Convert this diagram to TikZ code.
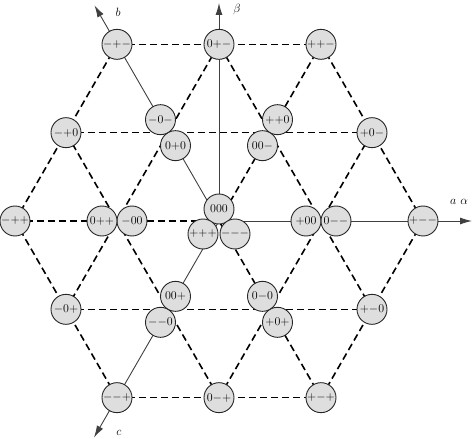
\documentclass[tikz,border=0pt]{standalone}
\usepackage{amsmath, amssymb}
\usetikzlibrary{arrows.meta}
\usetikzlibrary{calc}

\begin{document}
\begin{tikzpicture}[
	x=1pt, y=1pt,
  > = {Latex[length=12pt,width=7pt]},
  vec/.style = {draw=black!85,line width=0.9pt,fill=black!13,circle,minimum size=30pt,inner sep=0pt,font=\fontsize{12}{12}\selectfont},
  grid/.style = {line width=1.6pt,dash pattern=on 7pt off 4pt},
  axis/.style = {draw=black!75,line width=0.9pt},
  lbl/.style = {font=\fontsize{13}{13}\selectfont}
  ]
	\useasboundingbox (-219,-218) rectangle (255,221);

	\coordinate (o) at (0,0);

	% outer hexagon
	\coordinate (pmm) at (0:204);
	\coordinate (ppm) at (60:204);
	\coordinate (mpm) at (120:204);
	\coordinate (mpp) at (180:204);
	\coordinate (mmp) at (240:204);
	\coordinate (pmp) at (300:204);

	\coordinate (pzm) at (30:176.67);
	\coordinate (zpm) at (90:176.67);
	\coordinate (mpz) at (150:176.67);
	\coordinate (mzp) at (210:176.67);
	\coordinate (zmp) at (270:176.67);
	\coordinate (pmz) at (330:176.67);

	% axis ends
	\coordinate (atip) at (253,0);
	\coordinate (btip) at (120:249);
	\coordinate (ctip) at (240:250);
	\coordinate (betatip) at (0,218);

	% dashed lattice
	\draw[grid] (mpm) -- (ppm);
	\draw[grid] (mpz) -- (pzm);
	\draw[grid] (mpp) -- (o);
	\draw[grid] (mzp) -- (pmz);
	\draw[grid] (mmp) -- (pmp);

	\draw[grid] (mpp) -- (mpm);
	\draw[grid] (mzp) -- (zpm);
	\draw[grid] (o) -- (ppm);
	\draw[grid] (zmp) -- (pzm);
	\draw[grid] (pmp) -- (pmm);

	\draw[grid] (pmm) -- (ppm);
	\draw[grid] (pmz) -- (zpm);
	\draw[grid] (o) -- (pmp);
	\draw[grid] (zmp) -- (mpz);
	\draw[grid] (mmp) -- (mpp);

	% axes
	\draw[axis,->] (o) -- (atip);
	\draw[axis,->] (o) -- (betatip);
	\draw[axis,->] (o) -- (btip);
	\draw[axis,->] (o) -- (ctip);

	\node[lbl] (alabel) at (240,19) {$a\ \alpha$};
	\node[lbl] (betalabel) at (18,211) {$\beta$};
	\node[lbl] (blabel) at (-101,209) {$b$};
	\node[lbl] (clabel) at (-100,-212) {$c$};

	% large vectors
	\node[vec] (npmm) at (pmm) {${+}{-}{-}$};
	\node[vec] (nppm) at (ppm) {${+}{+}{-}$};
	\node[vec] (nmpm) at (mpm) {${-}{+}{-}$};
	\node[vec] (nmpp) at (mpp) {${-}{+}{+}$};
	\node[vec] (nmmp) at (mmp) {${-}{-}{+}$};
	\node[vec] (npmp) at (pmp) {${+}{-}{+}$};

	% medium vectors
	\node[vec] (npzm) at (pzm) {${+}0{-}$};
	\node[vec] (nzpm) at (zpm) {$0{+}{-}$};
	\node[vec] (nmpz) at (mpz) {${-}{+}0$};
	\node[vec] (nmzp) at (mzp) {${-}0{+}$};
	\node[vec] (nzmp) at (zmp) {$0{-}{+}$};
	\node[vec] (npmz) at (pmz) {${+}{-}0$};

	% small vectors
	\node[vec] (pzz) at (0:87) {${+}00$};
	\node[vec] (zmm) at (0:117) {$0{-}{-}$};
	\node[vec] (zzm) at (60:87) {$00{-}$};
	\node[vec] (ppz) at (60:117) {${+}{+}0$};
	\node[vec] (zpz) at (120:87) {$0{+}0$};
	\node[vec] (mzm) at (120:117) {${-}0{-}$};
	\node[vec] (mzz) at (180:87) {${-}00$};
	\node[vec] (zpp) at (180:117) {$0{+}{+}$};
	\node[vec] (zzp) at (240:87) {$00{+}$};
	\node[vec] (mmz) at (240:117) {${-}{-}0$};
	\node[vec] (zmz) at (300:87) {$0{-}0$};
	\node[vec] (pzp) at (300:117) {${+}0{+}$};

	% zero vectors
	\node[vec] (zzz) at (0,12) {$000$};
	\node[vec] (ppp) at (-16,-13) {${+}{+}{+}$};
	\node[vec] (mmm) at (16,-13) {${-}{-}{-}$};
\end{tikzpicture}
\end{document}
